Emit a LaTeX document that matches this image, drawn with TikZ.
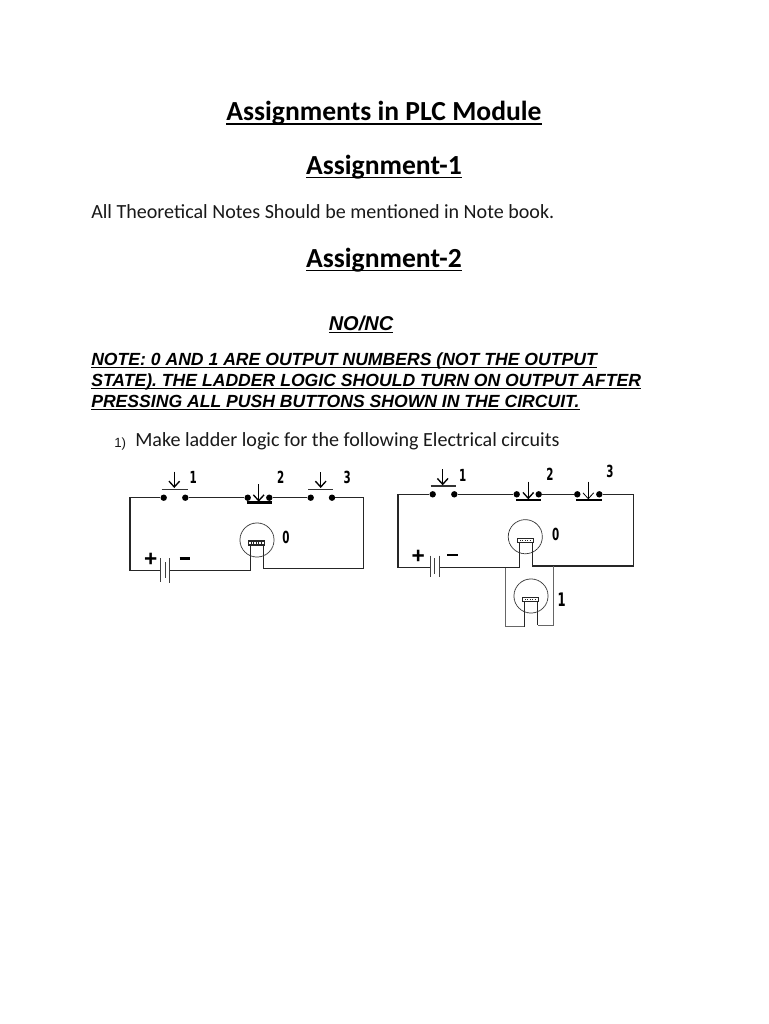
\documentclass[tikz,border=0pt]{standalone}
\usepackage{fontspec}
\setmainfont{Carlito}
\newfontfamily\arialf{Liberation Sans}
\newfontfamily\dejaf{DejaVu Sans}
\newsavebox{\ulbox}
\newlength{\ulw}
\newcommand{\ulx}[2][-2.2pt]{\sbox{\ulbox}{#2}\setlength{\ulw}{\wd\ulbox}\rlap{\rule[#1]{\ulw}{1pt}}\usebox{\ulbox}}
\tikzset{x=0.75pt,y=-0.75pt,
 heading/.style={anchor=base,inner sep=0pt,font=\fontsize{20.7pt}{24pt}\selectfont\bfseries},
 body/.style={anchor=base west,inner sep=0pt,font=\fontsize{15.05pt}{18pt}\selectfont,text=black!90},
 notetext/.style={anchor=base west,inner sep=0pt,font=\fontsize{13.2pt}{16pt}\selectfont\arialf\bfseries\itshape},
 wire/.style={line width=1pt,black!85},
 thinwire/.style={line width=0.6pt,black!60},
 condot/.style={circle,fill=black,inner sep=0pt,minimum size=4.8pt},
 conbar/.style={line width=0.8pt,black!80},
 nobar/.style={line width=1.9pt,black},
 pusharrow/.style={line width=1pt,black,-{Straight Barb[length=4.4pt,width=8pt]}},
 lamp/.style={circle,draw=black!80,line width=0.55pt,dash pattern=on 1.2pt off 0.3pt,inner sep=0pt,minimum size=25.6pt},
 fil/.style={line width=0.8pt,black!85},
 num/.style={inner sep=0pt,font=\fontsize{12.5pt}{13pt}\selectfont\dejaf\bfseries,xscale=.62},
 sign/.style={inner sep=0pt,font=\fontsize{17pt}{16pt}\selectfont\arialf\bfseries},
 plate/.style={line width=0.7pt,black!75}
}
\usetikzlibrary{arrows.meta}
\begin{document}
\begin{tikzpicture}
\useasboundingbox (0,0) rectangle (768,1024);
\fill[white] (0,0) rectangle (768,1024);
% text
\node[heading] (title) at (384,120.5) {\ulx[-3.2pt]{Assignments in PLC Module}};
\node[heading] (a1) at (384,174) {\ulx[-3.2pt]{Assignment-1}};
\node[body] (a1t) at (91,218) {All Theoretical Notes Should be mentioned in Note book.};
\node[heading] (a2) at (384,267) {\ulx[-3.2pt]{Assignment-2}};
\node[notetext,anchor=base,font=\fontsize{15pt}{18pt}\selectfont\arialf\bfseries\itshape] (nonc) at (361,330) {\ulx{NO/NC}};
\node[notetext] (n1) at (91,365) {\ulx{NOTE: 0 AND 1 ARE OUTPUT NUMBERS (NOT THE OUTPUT}};
\node[notetext] (n2) at (91,386) {\ulx{STATE). THE LADDER LOGIC SHOULD TURN ON OUTPUT AFTER}};
\node[notetext] (n3) at (91,407) {\ulx{PRESSING ALL PUSH BUTTONS SHOWN IN THE CIRCUIT.}};
\node[body,font=\fontsize{10pt}{12pt}\selectfont\arialf] (one) at (114,447) {1)};
\node[body] (mk) at (135,446) {Make ladder logic for the following Electrical circuits};

% LEFT CIRCUIT
\node[condot] (La) at (163.7,497.7) {};
\node[condot] (Lb) at (185.3,497.7) {};
\node[condot] (Lc) at (247.7,497.7) {};
\node[condot] (Ld) at (269.3,497.7) {};
\node[condot] (Le) at (310.7,497.7) {};
\node[condot] (Lf) at (332,497.7) {};
\coordinate (Ltl) at (130,497.7);
\coordinate (Lbl) at (130,570.7);
\coordinate (Ltr) at (363.3,497.7);
\coordinate (Lbr) at (363.3,568.3);
\coordinate (Lbm) at (263.3,568.3);
\coordinate (Lbn) at (250.3,570.7);
\coordinate (Lf1) at (248.7,541); \coordinate (Lf2) at (264.3,545);
\coordinate (Lp1) at (160.7,570.7); \coordinate (Lp3) at (169.3,570.7);
\draw[wire] (La) -- (Ltl) |- (Lp1);
\draw[wire] (Lb) -- (Lc);
\draw[wire] (Ld) -- (Le);
\draw[wire] (Lf) -- (Ltr) -- (Lbr) -- (Lbm) -- (263.3,545);
\draw[wire] (Lp3) -- (Lbn) -- (250.3,545);
% contact bars
\draw[conbar] (161.7,489.3) -- (188.3,489.3);
\draw[pusharrow] (174.3,471.7) -- (174.3,488);
\draw[nobar] (246.7,502.7) -- (271.7,502.7);
\draw[pusharrow] (258.7,484) -- (258.7,501.7);
\draw[conbar] (308.3,489.3) -- (333.3,489.3);
\draw[pusharrow] (320.7,472.3) -- (320.7,488);
% battery
\draw[plate] (160.7,558.3) -- (160.7,581.7);
\draw[plate] (165,562) -- (165,578);
\draw[plate] (169.3,558.3) -- (169.3,582.5);
\node[sign] (Lplus) at (150.7,559.7) {+};
\node[sign] (Lminus) at (185,558.5) {\rule{8pt}{1.8pt}};
% lamp
\node[lamp] (Llamp) at (257,540) {};
\draw[fil] (Lf1) rectangle (Lf2);
\draw[fil,densely dotted] (251,543) -- (262,543);
\node[num] (Ln1) at (193.3,477.3) {1};
\node[num] (Ln2) at (280.7,477.3) {2};
\node[num] (Ln3) at (347.3,477.3) {3};
\node[num] (Ln0) at (286,537.5) {0};

% RIGHT CIRCUIT
\node[condot] (Ra) at (432.7,494.3) {};
\node[condot] (Rb) at (454.3,494.3) {};
\node[condot] (Rc) at (516.7,494.3) {};
\node[condot] (Rd) at (538.7,494.3) {};
\node[condot] (Re) at (577.3,494.3) {};
\node[condot] (Rf) at (599.3,494.3) {};
\coordinate (Rtl) at (398,494.3);
\coordinate (Rbl) at (398,567.7);
\coordinate (Rtr) at (633.3,494.3);
\coordinate (Rbr) at (633.3,566);
\coordinate (Rbm) at (532.7,566);
\coordinate (Rbn) at (519.3,567.7);
\coordinate (Rp1) at (430,567.7); \coordinate (Rp3) at (439,567.7);
\coordinate (Rtb1) at (505.3,567.7); \coordinate (Rtb2) at (505.3,626.7);
\coordinate (Rtb3) at (524.3,626.7);
\coordinate (Rtc1) at (553.3,566); \coordinate (Rtc2) at (553.3,625);
\coordinate (Rtc3) at (537.7,625);
\draw[wire] (Ra) -- (Rtl) |- (Rp1);
\draw[wire] (Rb) -- (Rc);
\draw[wire] (Rd) -- (Re);
\draw[wire] (Rf) -- (Rtr) -- (Rbr) -- (Rbm) -- (532.7,542.3);
\draw[wire] (Rp3) -- (Rbn) -- (519.3,542.3);
\draw[thinwire] (Rtb1) -- (Rtb2) -- (Rtb3);
\draw[wire] (Rtb3) -- (524.3,601.3);
\draw[thinwire] (Rtc1) -- (Rtc2) -- (Rtc3);
\draw[wire] (Rtc3) -- (537.7,601.3);
% contacts
\draw[conbar] (430.7,486) -- (456,486);
\draw[pusharrow] (442.7,469.3) -- (442.7,485.3);
\draw[nobar] (516,500) -- (541,500);
\draw[pusharrow] (528.3,481.7) -- (528.3,499.3);
\draw[nobar] (576,500) -- (601.7,500);
\draw[pusharrow,line width=0.6pt] (588.3,481.7) -- (588.3,499.3);
% battery
\draw[plate] (430,555.7) -- (430,577);
\draw[plate] (434.3,558) -- (434.3,574);
\draw[plate] (439,555.7) -- (439,577);
\node[sign] (Rplus) at (418.3,556.5) {+};
\node[sign] (Rminus) at (452.7,555) {\rule{8pt}{1.4pt}};
% lamps
\node[lamp] (Rlamp0) at (525.3,536.7) {};
\draw[fil] (517.7,538.3) rectangle (533.7,542.3);
\draw[fil,densely dotted] (520,540.3) -- (531,540.3);
\node[lamp] (Rlamp1) at (531,596) {};
\draw[fil] (522.7,597.3) rectangle (538.7,601.3);
\draw[fil,densely dotted] (525,599.3) -- (536,599.3);
\node[num] (Rn1) at (462.7,475) {1};
\node[num] (Rn2) at (550,474) {2};
\node[num] (Rn3) at (610,471.7) {3};
\node[num] (Rn0) at (555.7,534) {0};
\node[num,font=\fontsize{14pt}{15pt}\selectfont\dejaf\bfseries] (Rn01) at (561.7,599.3) {1};
\end{tikzpicture}
\end{document}
